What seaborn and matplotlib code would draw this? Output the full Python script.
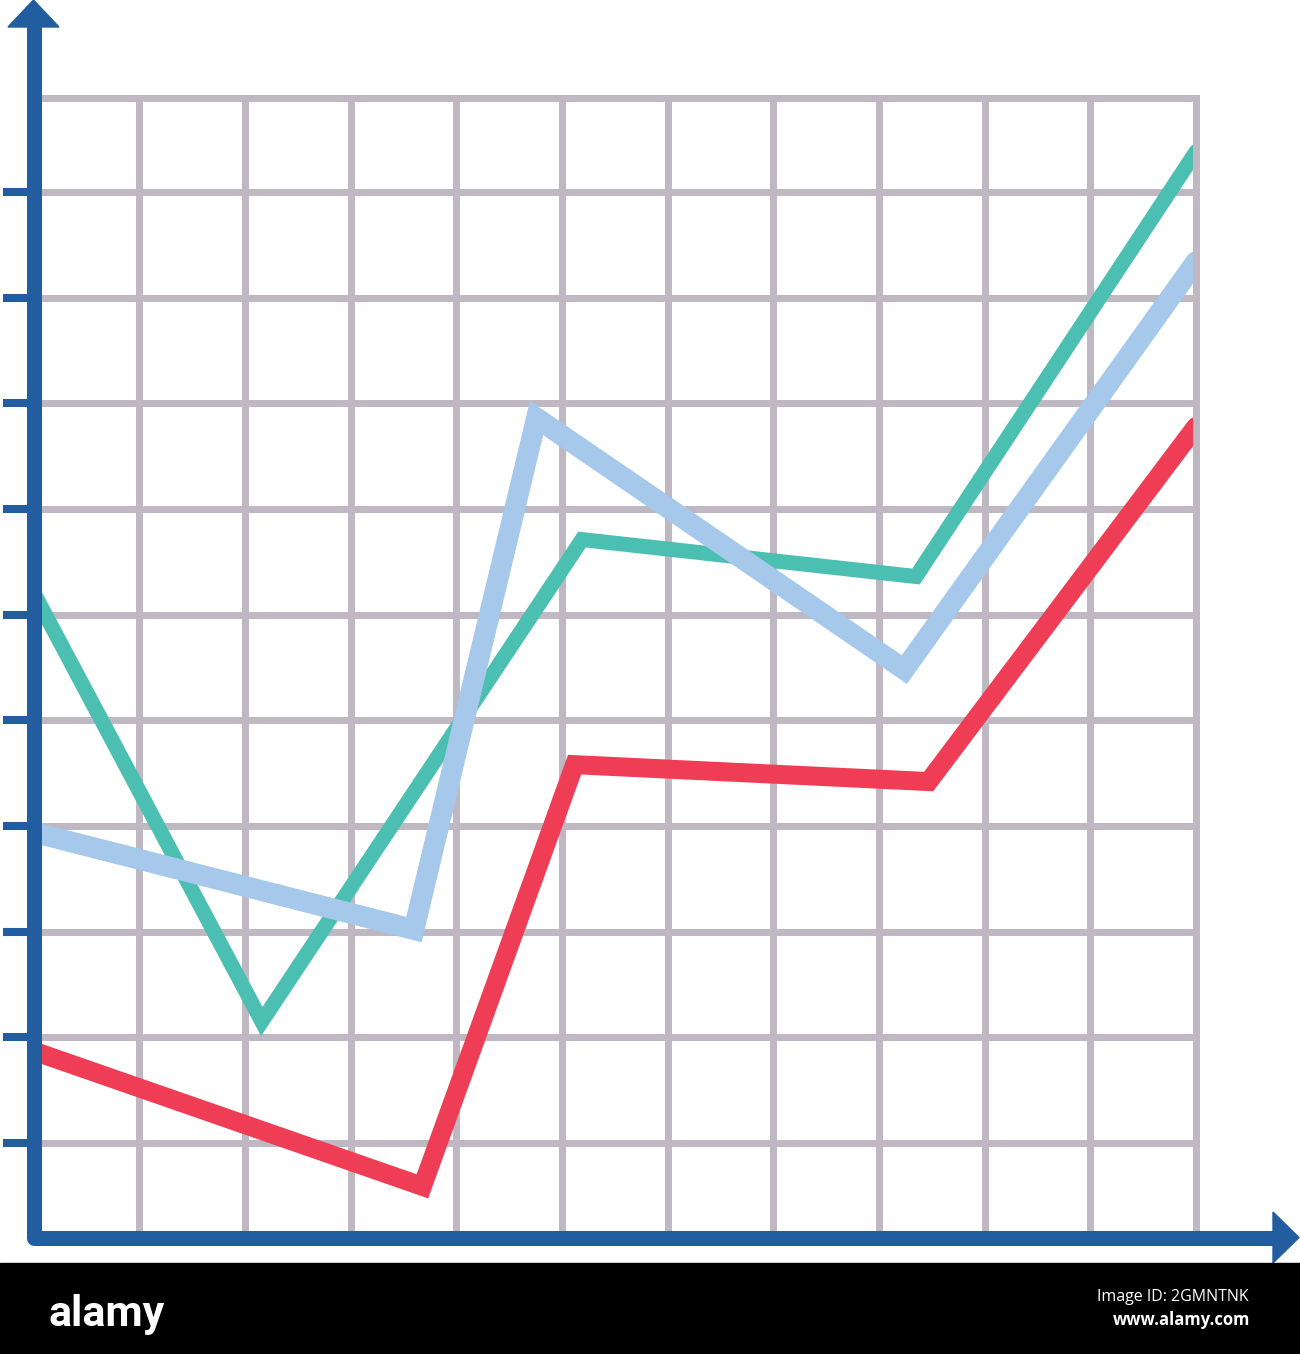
import numpy as np
import pandas as pd
import matplotlib
matplotlib.use("Agg")
import matplotlib.pyplot as plt
from matplotlib.patches import Polygon, Rectangle
import seaborn as sns

# ── Colours ─────────────────────────────────────────────
AXIS_BLUE = "#225E9F"
GRID = "#BFB8C3"
TEAL = "#4BBFB1"
SKY = "#A5C8EB"
RED = "#EE3D55"

# ── Data (x: grid columns from the axis, y: grid rows) ─
teal_x = [0.0, 2.16, 5.19, 8.35, 11.0]
teal_y = [6.21, 2.15, 6.71, 6.36, 10.38]
sky_x = [0.0, 3.60, 4.76, 8.24, 11.0]
sky_y = [3.94, 3.02, 7.86, 5.48, 9.34]
red_x = [0.0, 3.68, 5.12, 8.47, 11.0]
red_y = [1.87, 0.59, 4.58, 4.42, 7.78]
series = ["teal", "sky", "red"]
x_ticks = list(range(1, 11))
y_ticks = list(range(1, 11))

df = pd.concat([
    pd.DataFrame({"x": teal_x, "y": teal_y, "series": "teal"}),
    pd.DataFrame({"x": sky_x, "y": sky_y, "series": "sky"}),
    pd.DataFrame({"x": red_x, "y": red_y, "series": "red"}),
], ignore_index=True)

sns.set_style("white")
plt.rcParams["lines.solid_joinstyle"] = "miter"

W, H = 1300, 1354
fig = plt.figure(figsize=(W / 100, H / 100), dpi=100)
fig.patch.set_facecolor("white")

# plot area = the grid box
left, right, top, bottom = 33.5, 1196, 98, 1237.5
ax = fig.add_axes([left / W, (H - bottom) / H, (right - left) / W, (bottom - top) / H])
sns.lineplot(data=df, x="x", y="y", hue="series", size="series",
             hue_order=series, size_order=series,
             palette={"teal": TEAL, "sky": SKY, "red": RED},
             sizes={"teal": 10.8, "sky": 15.0, "red": 13.7},
             estimator=None, sort=False, legend=False, ax=ax)

unit = (right - left) / 11
ax.set_xlim(0, 11)
ax.set_ylim(1 - (bottom - 1143) / unit, 1 + (1143 - top) / unit)
ax.set_xticks(x_ticks)
ax.set_yticks(y_ticks)
ax.set_axisbelow(True)
ax.grid(True, color=GRID, lw=5)
ax.tick_params(axis="x", length=0, labelbottom=False)
ax.tick_params(axis="y", left=True, length=22.5, width=5.8, color=AXIS_BLUE,
               direction="out", labelleft=False)
ax.set_xlabel("")
ax.set_ylabel("")
for s in ["top", "right"]:
    ax.spines[s].set_color(GRID)
    ax.spines[s].set_linewidth(5)
for s in ["left", "bottom"]:
    ax.spines[s].set_visible(False)

# ── Axis arrows and footer, in pixel space ──────────────
deco = fig.add_axes([0, 0, 1, 1], zorder=5)
deco.set_xlim(0, W)
deco.set_ylim(H, 0)
deco.axis("off")
deco.patch.set_alpha(0)

deco.plot([left, left, 1276], [24, bottom, bottom], color=AXIS_BLUE, lw=10.8,
          solid_joinstyle="round", solid_capstyle="butt")
deco.add_patch(Polygon([(left, 0), (8, 27), (59, 27)], closed=True, color=AXIS_BLUE))
deco.add_patch(Polygon([(1299, bottom), (1273, 1212), (1273, 1263)], closed=True, color=AXIS_BLUE))

deco.add_patch(Rectangle((0, 1263), W, H - 1263, color="black"))
deco.text(48, 1326, "alamy", color="white", fontsize=31, fontweight="bold",
          family=["Liberation Sans Narrow", "Roboto", "DejaVu Sans"],
          fontstretch="condensed", va="baseline", ha="left")
deco.text(1249, 1297, "Image ID: 2GMNTNK", color="white", fontsize=11.5,
          family=["Open Sans", "DejaVu Sans"], va="center", ha="right")
deco.text(1250, 1320, "www.alamy.com", color="white", fontsize=12, fontweight="bold",
          family=["Open Sans", "DejaVu Sans"], va="center", ha="right")

fig.savefig("out.png", dpi=100)
